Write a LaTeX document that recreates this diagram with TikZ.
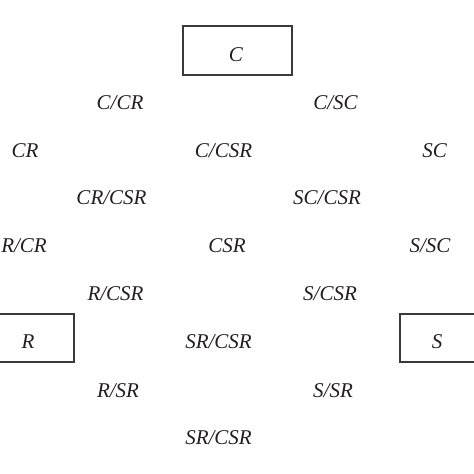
\documentclass[tikz,border=0pt]{standalone}
\usepackage{fontspec}
\setmainfont{Liberation Serif}
\begin{document}
\begin{tikzpicture}[x=1pt,y=1pt,
  lbl/.style={anchor=base, inner sep=0pt, text=ink, font=\fontsize{21}{24}\selectfont\itshape},
  boxnode/.style={draw=boxline, line width=1.3pt, minimum width=109pt, inner sep=0pt}]
\definecolor{ink}{HTML}{231F20}
\definecolor{boxline}{HTML}{3A3A3A}
\useasboundingbox (0,0) rectangle (474,474);
% boxes
\node[boxnode, minimum height=49pt] (Cbox) at (237.5,423.5) {};
\node[boxnode, minimum height=48pt] (Rbox) at (19.5,136) {};
\node[boxnode, minimum height=48pt] (Sbox) at (454.5,136) {};
% labels
\node[lbl] (C) at (236,412) {C};
\node[lbl] (CCR) at (120,364) {C/CR};
\node[lbl] (CSC) at (335.5,364) {C/SC};
\node[lbl] (CR) at (25,316) {CR};
\node[lbl] (CCSR) at (223.5,316) {C/CSR};
\node[lbl] (SC) at (434.5,316) {SC};
\node[lbl] (CRCSR) at (111.5,269) {CR/CSR};
\node[lbl] (SCCSR) at (327,269) {SC/CSR};
\node[lbl, anchor=base east] (RCR) at (47,221) {R/CR};
\node[lbl] (CSR) at (227,221) {CSR};
\node[lbl] (SSC) at (430,221) {S/SC};
\node[lbl] (RCSR) at (115.5,173) {R/CSR};
\node[lbl] (SCSR) at (330,173) {S/CSR};
\node[lbl] (R) at (28,125) {R};
\node[lbl] (SRCSRa) at (218.5,125) {SR/CSR};
\node[lbl] (S) at (437,125) {S};
\node[lbl] (RSR) at (118,76) {R/SR};
\node[lbl] (SSR) at (333,76) {S/SR};
\node[lbl] (SRCSRb) at (218.5,29) {SR/CSR};
\end{tikzpicture}
\end{document}
